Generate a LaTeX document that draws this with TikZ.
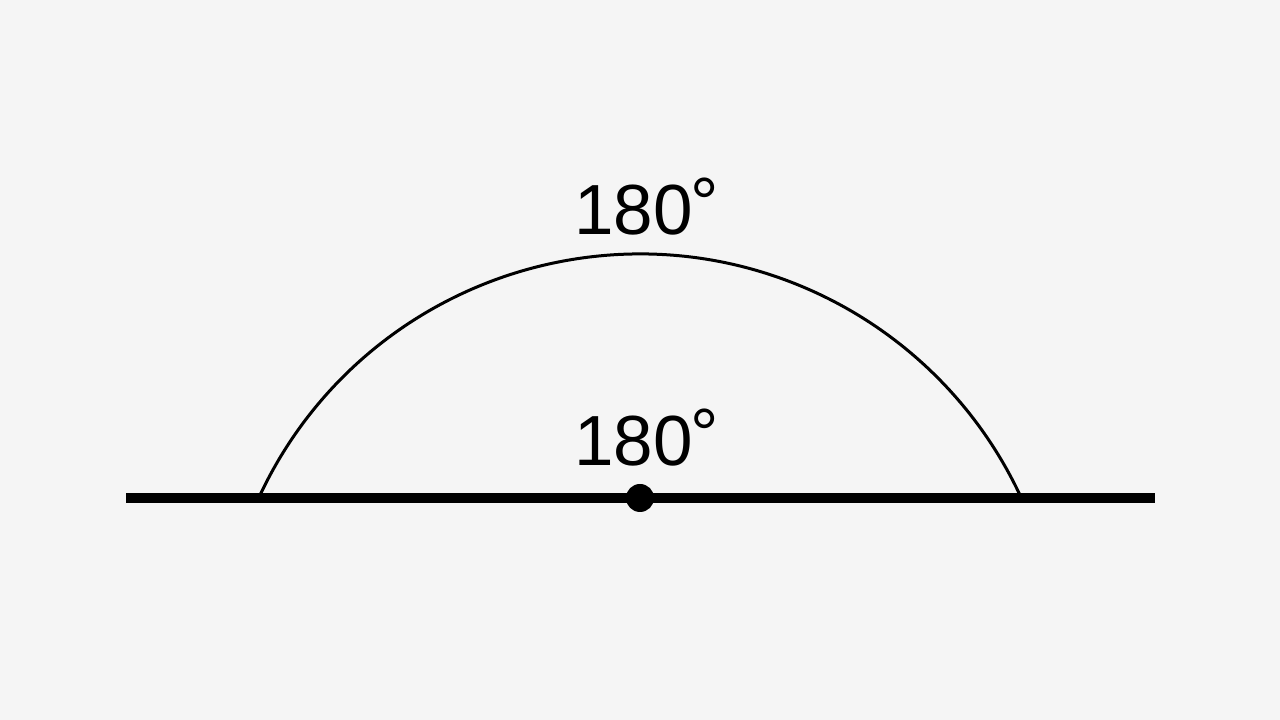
\documentclass[tikz,border=0pt]{standalone}
\usepackage{fontspec}
\setmainfont{Liberation Sans}
\usetikzlibrary{calc}
\definecolor{bg}{HTML}{F5F5F5}
\tikzset{
  baseline line/.style={line width=10pt, line cap=butt},
  arcline/.style={line width=3pt},
  label text/.style={anchor=base west, inner sep=0pt, font=\fontsize{71}{71}\selectfont},
  vertexdot/.style={circle, fill=black, minimum size=28pt, inner sep=0pt}
}
\begin{document}
\begin{tikzpicture}[x=1pt,y=1pt]
  \fill[bg] (0,0) rectangle (1280,720);
  \useasboundingbox (0,0) rectangle (1280,720);
  \coordinate (L) at (126,222);
  \coordinate (R) at (1155,222);
  \coordinate (C) at (640,46);
  \coordinate (A) at ($(C)+(155.22:420)$);
  \draw[baseline line] (L) -- (R);
  \draw[arcline] (A) arc[start angle=155.22, end angle=24.78, radius=420];
  \node[vertexdot] (V) at (640,222) {};
  \node[label text] (top) at (574,485) {180\kern-2pt\raisebox{7pt}{°}};
  \node[label text] (mid) at (574,254) {180\kern-2pt\raisebox{7pt}{°}};
\end{tikzpicture}
\end{document}
